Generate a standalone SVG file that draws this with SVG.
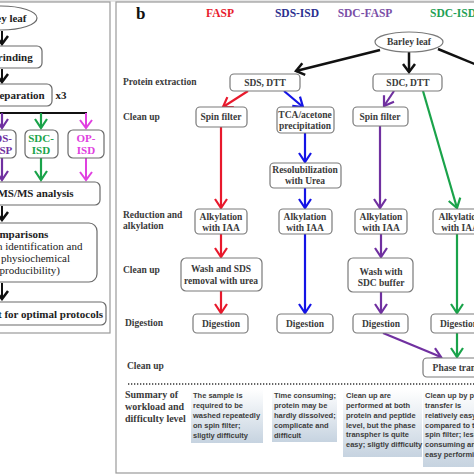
<svg xmlns="http://www.w3.org/2000/svg" width="474" height="474" viewBox="0 0 474 474">
<defs>
<style>
.pn{fill:none;stroke:#9a9a9a;stroke-width:1.2}
.bx{fill:#fff;stroke:#7a7a7a;stroke-width:1.2}
.lb{fill:#fff;stroke:#6a6a6a;stroke-width:1.2}
.t{font-family:"Liberation Serif","Times New Roman",serif;font-weight:bold;font-size:9.5px;fill:#3a3a3a;text-anchor:middle}
.ts{font-family:"Liberation Serif","Times New Roman",serif;font-weight:bold;font-size:9.5px;fill:#3a3a3a}
.tl{font-family:"Liberation Serif","Times New Roman",serif;font-weight:bold;font-size:11px;fill:#222;text-anchor:middle}
.tr{font-family:"Liberation Serif","Times New Roman",serif;font-size:11px;fill:#222}
.hd{font-family:"Liberation Serif","Times New Roman",serif;font-weight:bold;font-size:11.5px;text-anchor:middle}
.sm{font-family:"Liberation Sans",Arial,sans-serif;font-weight:bold;font-size:7.5px;fill:#3c3c3c}
.sb{fill:url(#gr);stroke:none}
.k{stroke:#111;stroke-width:2.5;fill:none}
.r{stroke:#e8192c;stroke-width:2.2;fill:none}
.b{stroke:#1414e6;stroke-width:2.2;fill:none}
.p{stroke:#7030a0;stroke-width:2.2;fill:none}
.g{stroke:#1aa34a;stroke-width:2.2;fill:none}
.m{stroke:#e040e0;stroke-width:2;fill:none}
</style>
<linearGradient id="gr" x1="0" y1="0" x2="0" y2="1">
<stop offset="0" stop-color="#ffffff"/>
<stop offset="1" stop-color="#c6d3e0"/>
</linearGradient>
<marker id="ak" viewBox="-10 -8 12 16" refX="0" refY="0" markerWidth="12" markerHeight="16" markerUnits="userSpaceOnUse" orient="auto"><path d="M-8,-6 L0,0 L-8,6" fill="none" stroke="#111" stroke-width="2.5"/></marker>
<marker id="ar" viewBox="-10 -8 12 16" refX="0" refY="0" markerWidth="12" markerHeight="16" markerUnits="userSpaceOnUse" orient="auto"><path d="M-9,-6 L0,0 L-9,6" fill="none" stroke="#e8192c" stroke-width="2.2"/></marker>
<marker id="ab" viewBox="-10 -8 12 16" refX="0" refY="0" markerWidth="12" markerHeight="16" markerUnits="userSpaceOnUse" orient="auto"><path d="M-9,-6 L0,0 L-9,6" fill="none" stroke="#1414e6" stroke-width="2.2"/></marker>
<marker id="ap" viewBox="-10 -8 12 16" refX="0" refY="0" markerWidth="12" markerHeight="16" markerUnits="userSpaceOnUse" orient="auto"><path d="M-9,-6 L0,0 L-9,6" fill="none" stroke="#7030a0" stroke-width="2.2"/></marker>
<marker id="ag" viewBox="-10 -8 12 16" refX="0" refY="0" markerWidth="12" markerHeight="16" markerUnits="userSpaceOnUse" orient="auto"><path d="M-9,-6 L0,0 L-9,6" fill="none" stroke="#1aa34a" stroke-width="2.2"/></marker>
<marker id="am" viewBox="-10 -8 12 16" refX="0" refY="0" markerWidth="12" markerHeight="16" markerUnits="userSpaceOnUse" orient="auto"><path d="M-8,-6 L0,0 L-8,6" fill="none" stroke="#e040e0" stroke-width="2"/></marker>
</defs>
<rect x="0" y="0" width="474" height="474" fill="#fff"/>
<rect x="0" y="0" width="474" height="2" fill="#e6e6e6"/>
<!-- panels -->
<rect class="pn" x="-10" y="2" width="120" height="331"/>
<rect class="pn" x="116" y="2" width="372" height="471"/>

<!-- panel a connectors -->
<g id="connectors-a">
<line class="k" x1="2" y1="31" x2="2" y2="44" marker-end="url(#ak)" style="stroke-width:2"/>
<line class="k" x1="2" y1="69" x2="2" y2="82" marker-end="url(#ak)" style="stroke-width:2"/>
<line class="k" x1="-5" y1="113" x2="87" y2="113" style="stroke-width:2"/>
<line class="p" x1="2" y1="113" x2="2" y2="128" marker-end="url(#ap)"/>
<line class="g" x1="41" y1="113" x2="41" y2="128" marker-end="url(#ag)"/>
<line class="m" x1="86" y1="113" x2="86" y2="128" marker-end="url(#am)"/>
<line class="p" x1="2" y1="158" x2="2" y2="180" marker-end="url(#ap)"/>
<line class="g" x1="41" y1="158" x2="41" y2="180" marker-end="url(#ag)"/>
<line class="m" x1="86" y1="158" x2="86" y2="180" marker-end="url(#am)"/>
<line class="k" x1="2" y1="206" x2="2" y2="220" marker-end="url(#ak)" style="stroke-width:2"/>
<line class="k" x1="2" y1="283" x2="2" y2="299" marker-end="url(#ak)" style="stroke-width:2"/>
</g>

<g id="a-barley"><ellipse class="lb" cx="1" cy="18" rx="36" ry="12"/><text class="tl" x="1" y="22">Barley leaf</text></g>
<g id="a-grinding"><rect class="lb" x="-20" y="46" width="62" height="22" rx="5"/><text class="tl" x="11" y="61">Grinding</text></g>
<g id="a-separation"><rect class="lb" x="-14" y="84" width="66" height="22" rx="5"/><text class="tl" x="19" y="99">Separation</text><text class="tl" x="61" y="99">x3</text></g>
<g id="a-sdsfasp"><rect class="lb" x="-20" y="130" width="36" height="28" rx="5"/><text class="tl" x="0" y="142" style="fill:#7030a0">SDS-</text><text class="tl" x="-1" y="154" style="fill:#7030a0">FASP</text></g>
<g id="a-sdcisd"><rect class="lb" x="25" y="130" width="33" height="28" rx="5"/><text class="tl" x="41" y="142" style="fill:#1aa34a">SDC-</text><text class="tl" x="41" y="154" style="fill:#1aa34a">ISD</text></g>
<g id="a-opisd"><rect class="lb" x="68" y="130" width="36" height="28" rx="5"/><text class="tl" x="86" y="142" style="fill:#e040e0">OP-</text><text class="tl" x="86" y="154" style="fill:#e040e0">ISD</text></g>
<g id="a-lcms"><rect class="lb" x="-48" y="182" width="148" height="23" rx="5"/><text class="tl" x="26" y="197">LC-MS/MS analysis</text></g>
<g id="a-comparisons"><rect class="lb" x="-40" y="223" width="137" height="59" rx="8"/>
<text class="tl" x="-14" y="238" style="text-anchor:start">Comparisons</text>
<text class="tr" x="-33" y="250">(Protein identification and</text>
<text class="tr" x="1" y="262">physiochemical</text>
<text class="tr" x="-9" y="274">reproducibility)</text></g>
<g id="a-assessment"><rect class="lb" x="-60" y="302" width="166" height="23" rx="5"/><text class="tl" x="103" y="318" style="text-anchor:end">Assessment for optimal protocols</text></g>

<!-- panel b headings -->
<text x="136" y="19" style="font-family:'Liberation Serif',serif;font-weight:bold;font-size:17px;fill:#111">b</text>
<text class="hd" x="220" y="17" fill="#e8192c">FASP</text>
<text class="hd" x="297" y="17" fill="#2b2f8f">SDS-ISD</text>
<text class="hd" x="365" y="17" fill="#7a4ea6">SDC-FASP</text>
<text class="hd" x="430" y="17" fill="#1fa055" style="text-anchor:start">SDC-ISD</text>

<!-- row labels -->
<text class="ts" x="123" y="85">Protein extraction</text>
<text class="ts" x="123" y="120">Clean up</text>
<text class="ts" x="123" y="218">Reduction and</text>
<text class="ts" x="123" y="229">alkylation</text>
<text class="ts" x="123" y="273">Clean up</text>
<text class="ts" x="125" y="326">Digestion</text>
<text class="ts" x="127" y="369">Clean up</text>
<line x1="128" y1="384" x2="474" y2="384" stroke="#333" stroke-width="1.6" stroke-dasharray="1.3 1.7"/>
<text class="ts" x="125" y="398" style="font-size:10px">Summary of</text>
<text class="ts" x="125" y="410" style="font-size:10px">workload and</text>
<text class="ts" x="125" y="422" style="font-size:10px">difficulty level</text>

<!-- panel b connectors -->
<g id="connectors-b">
<line class="k" x1="380" y1="50" x2="296" y2="71" marker-end="url(#ak)"/>
<line class="k" x1="409" y1="52" x2="409" y2="72" marker-end="url(#ak)"/>
<line class="k" x1="438" y1="49" x2="482" y2="67"/>
<line class="r" x1="248" y1="91" x2="223" y2="107" marker-end="url(#ar)"/>
<line class="r" x1="221" y1="127" x2="221" y2="208" marker-end="url(#ar)"/>
<line class="r" x1="221" y1="234" x2="221" y2="257" marker-end="url(#ar)"/>
<line class="r" x1="221" y1="291" x2="221" y2="313" marker-end="url(#ar)"/>
<line class="b" x1="284" y1="91" x2="303" y2="107" marker-end="url(#ab)"/>
<line class="b" x1="305" y1="133" x2="305" y2="162" marker-end="url(#ab)"/>
<line class="b" x1="305" y1="188" x2="305" y2="208" marker-end="url(#ab)"/>
<line class="b" x1="305" y1="234" x2="305" y2="313" marker-end="url(#ab)"/>
<line class="p" x1="394" y1="91" x2="384" y2="106" marker-end="url(#ap)"/>
<line class="p" x1="380" y1="126" x2="380" y2="208" marker-end="url(#ap)"/>
<line class="p" x1="381" y1="234" x2="381" y2="257" marker-end="url(#ap)"/>
<line class="p" x1="381" y1="292" x2="381" y2="313" marker-end="url(#ap)"/>
<line class="p" x1="383" y1="333" x2="441" y2="357" marker-end="url(#ap)"/>
<line class="g" x1="423" y1="91" x2="457" y2="208" marker-end="url(#ag)"/>
<line class="g" x1="457" y1="234" x2="457" y2="313" marker-end="url(#ag)"/>
<line class="g" x1="457" y1="333" x2="457" y2="357" marker-end="url(#ag)"/>
</g>

<!-- panel b nodes -->
<g id="b-barley"><ellipse class="bx" cx="409" cy="42" rx="34" ry="10"/><text class="t" x="409" y="45">Barley leaf</text></g>
<g id="b-sdsdtt"><rect class="bx" x="230" y="74" width="70" height="17" rx="4"/><text class="t" x="265" y="86">SDS, DTT</text></g>
<g id="b-sdcdtt"><rect class="bx" x="373" y="74" width="69" height="17" rx="4"/><text class="t" x="408" y="86">SDC, DTT</text></g>
<g id="b-spin1"><rect class="bx" x="196" y="107" width="51" height="20" rx="4"/><text class="t" x="221" y="120">Spin filter</text></g>
<g id="b-tca"><rect class="bx" x="277" y="107" width="57" height="26" rx="4"/><text class="t" x="305" y="118">TCA/acetone</text><text class="t" x="305" y="129">precipitation</text></g>
<g id="b-spin2"><rect class="bx" x="353" y="107" width="55" height="19" rx="4"/><text class="t" x="380" y="120">Spin filter</text></g>
<g id="b-resol"><rect class="bx" x="270" y="163" width="71" height="25" rx="4"/><text class="t" x="305" y="173">Resolubilization</text><text class="t" x="305" y="184">with Urea</text></g>
<g id="b-alk1"><rect class="bx" x="195" y="209" width="52" height="25" rx="4"/><text class="t" x="221" y="220">Alkylation</text><text class="t" x="221" y="231">with IAA</text></g>
<g id="b-alk2"><rect class="bx" x="279" y="209" width="53" height="25" rx="4"/><text class="t" x="305" y="220">Alkylation</text><text class="t" x="305" y="231">with IAA</text></g>
<g id="b-alk3"><rect class="bx" x="355" y="209" width="52" height="25" rx="4"/><text class="t" x="381" y="220">Alkylation</text><text class="t" x="381" y="231">with IAA</text></g>
<g id="b-alk4"><rect class="bx" x="433" y="209" width="55" height="25" rx="4"/><text class="t" x="460" y="220">Alkylation</text><text class="t" x="460" y="231">with IAA</text></g>
<g id="b-wash1"><rect class="bx" x="181" y="258" width="81" height="33" rx="5"/><text class="t" x="221" y="272">Wash and SDS</text><text class="t" x="221" y="284">removal with urea</text></g>
<g id="b-wash2"><rect class="bx" x="348" y="258" width="65" height="34" rx="5"/><text class="t" x="381" y="275">Wash with</text><text class="t" x="381" y="286">SDC buffer</text></g>
<g id="b-dig1"><rect class="bx" x="193" y="314" width="55" height="19" rx="4"/><text class="t" x="221" y="327">Digestion</text></g>
<g id="b-dig2"><rect class="bx" x="277" y="314" width="56" height="19" rx="4"/><text class="t" x="305" y="327">Digestion</text></g>
<g id="b-dig3"><rect class="bx" x="353" y="314" width="55" height="19" rx="4"/><text class="t" x="381" y="327">Digestion</text></g>
<g id="b-dig4"><rect class="bx" x="431" y="314" width="57" height="19" rx="4"/><text class="t" x="459" y="327">Digestion</text></g>
<g id="b-phase"><rect class="bx" x="423" y="358" width="72" height="19" rx="4"/><text class="t" x="462" y="371">Phase transfer</text></g>

<!-- summaries -->
<g id="sum1"><rect class="sb" x="191" y="389" width="72" height="54"/>
<text class="sm" x="193" y="398">The sample is</text><text class="sm" x="193" y="408">required to be</text><text class="sm" x="193" y="418">washed repeatedly</text><text class="sm" x="193" y="428">on spin filter;</text><text class="sm" x="193" y="438">sligtly difficulty</text></g>
<g id="sum2"><rect class="sb" x="272" y="389" width="65" height="53"/>
<text class="sm" x="274" y="398">Time consuming;</text><text class="sm" x="274" y="408">protein may be</text><text class="sm" x="274" y="418">hardly dissolved;</text><text class="sm" x="274" y="428">complicate and</text><text class="sm" x="274" y="438">difficult</text></g>
<g id="sum3"><rect class="sb" x="343" y="389" width="79" height="68"/>
<text class="sm" x="346" y="398">Clean up are</text><text class="sm" x="346" y="408">performed at both</text><text class="sm" x="346" y="418">protein and peptide</text><text class="sm" x="346" y="428">level, but the phase</text><text class="sm" x="346" y="437">transpher is quite</text><text class="sm" x="346" y="447">easy; sligtly difficulty</text></g>
<g id="sum4"><rect class="sb" x="423" y="389" width="60" height="78"/>
<text class="sm" x="425" y="398">Clean up by phase</text><text class="sm" x="425" y="408">transfer is</text><text class="sm" x="425" y="418">relatively easy</text><text class="sm" x="425" y="428">compared to the</text><text class="sm" x="425" y="437">spin filter; less</text><text class="sm" x="425" y="447">consuming and</text><text class="sm" x="425" y="457">easy performing</text></g>
</svg>
